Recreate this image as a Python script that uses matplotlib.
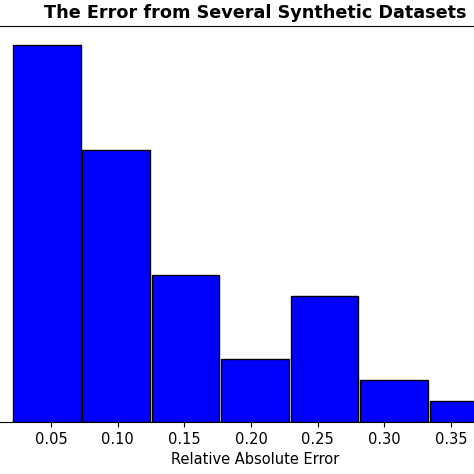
import numpy as np
import matplotlib.pyplot as plt

# histogram
bin_edges = [0.0207, 0.0728, 0.1249, 0.1770, 0.2291, 0.2812, 0.3333, 0.3854]
counts = [18, 13, 7, 3, 6, 2, 1]
x_ticks = [0.05, 0.10, 0.15, 0.20, 0.25, 0.30, 0.35]

fig = plt.figure(figsize=(4.74, 4.74), dpi=100)
# the reference is a crop, so the axes runs past both sides of the figure
ax = fig.add_axes([-0.026, 0.1097, 1.128, 0.835])

widths = np.diff(bin_edges)
centers = np.array(bin_edges[:-1]) + widths / 2
ax.bar(centers, counts, width=widths * 0.975, align="center",
       color="blue", edgecolor="black", linewidth=1.0)

ax.set_xlim(0.0025, 0.4036)
ax.set_ylim(0, 18.9)
ax.set_yticks([])
ax.set_xticks(x_ticks)
ax.set_xticklabels([f"{t:.2f}" for t in x_ticks])
ax.tick_params(axis="x", labelsize=10.5)
ax.set_xlabel("Relative Absolute Error", fontsize=10.5)
ax.set_title("The Error from Several Synthetic Datasets",
             fontsize=12.7, fontweight="bold")

fig.savefig("out.png", dpi=100)
